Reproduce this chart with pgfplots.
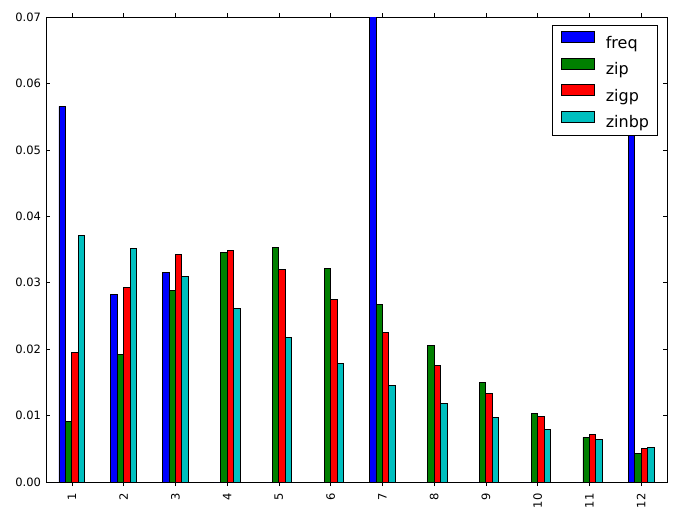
\documentclass[border=0pt]{standalone}
\usepackage{pgfplots}
\pgfplotsset{compat=1.18}
\usepackage{fontspec}
\setmainfont{DejaVu Sans}
\definecolor{mblue}{rgb}{0,0,1}
\definecolor{mgreen}{rgb}{0,0.5,0}
\definecolor{mred}{rgb}{1,0,0}
\definecolor{mcyan}{rgb}{0,0.75,0.75}
\pgfplotstableread{
x freq zip zigp zinbp
0 0.05656 0.00908 0.01952 0.03713
1 0.02825 0.01922 0.02935 0.03517
2 0.03156 0.02885 0.03427 0.03096
3 0.0 0.03457 0.03492 0.02614
4 0.0 0.03533 0.03201 0.02178
5 0.0 0.03216 0.02750 0.01786
6 0.10 0.02674 0.02253 0.01455
7 0.0 0.02052 0.01756 0.01184
8 0.0 0.01500 0.01335 0.00973
9 0.0 0.01034 0.00989 0.00793
10 0.0 0.00672 0.00717 0.00642
11 0.0600 0.00431 0.00507 0.00522
}\datatable
\pgfplotsset{
  mybar/.style={fill=#1, draw=black, line width=0.8pt,
    legend image code/.code={\draw[fill=#1, draw=black, line width=0.8pt] (0pt,-0.5pt) rectangle (33pt,10.5pt);}},
}
\begin{document}
\begin{tikzpicture}
\path (-46pt,-33pt) rectangle (630pt,482pt);
\begin{axis}[
  at={(0,0)}, anchor=south west,
  scale only axis, width=621pt, height=465pt,
  xmin=-0.5, xmax=11.5, ymin=0, ymax=0.07,
  xtick={0,1,2,3,4,5,6,7,8,9,10,11},
  xticklabels={1,2,3,4,5,6,7,8,9,10,11,12},
  ytick={0,0.01,0.02,0.03,0.04,0.05,0.06,0.07},
  scaled y ticks=false,
  /pgf/number format/fixed, /pgf/number format/fixed zerofill,
  /pgf/number format/precision=2, /pgf/number format/assume math mode=true,
  x tick label style={rotate=90, anchor=east, xshift=-4pt, font=\fontsize{11.5}{13}\selectfont},
  y tick label style={xshift=-1.5pt, font=\fontsize{11.5}{13}\selectfont},
  tick align=inside, major tick length=4pt,
  tick style={black, line width=0.6pt},
  axis line style={line width=1pt},
  xtick pos=both, ytick pos=both,
  ybar, bar width=0.125,
  legend cell align=left,
  legend style={at={(1,1)}, anchor=north east, xshift=-9pt, yshift=-8pt,
    draw=black, line width=0.8pt, font=\fontsize{16}{19}\selectfont,
    inner xsep=8.5pt, inner ysep=6pt, row sep=8pt,
    nodes={inner sep=0pt, text height=13.5pt, text depth=1.5pt, font=\fontsize{16}{19}\selectfont},
    /tikz/every odd column/.append style={column sep=11pt}},
]
\addplot[mybar=mblue, bar shift=-0.1875] table[x=x, y=freq] {\datatable};
\addplot[mybar=mgreen, bar shift=-0.0625] table[x=x, y=zip] {\datatable};
\addplot[mybar=mred, bar shift=0.0625] table[x=x, y=zigp] {\datatable};
\addplot[mybar=mcyan, bar shift=0.1875] table[x=x, y=zinbp] {\datatable};
\legend{freq,zip,zigp,zinbp}
\end{axis}
\end{tikzpicture}
\end{document}
